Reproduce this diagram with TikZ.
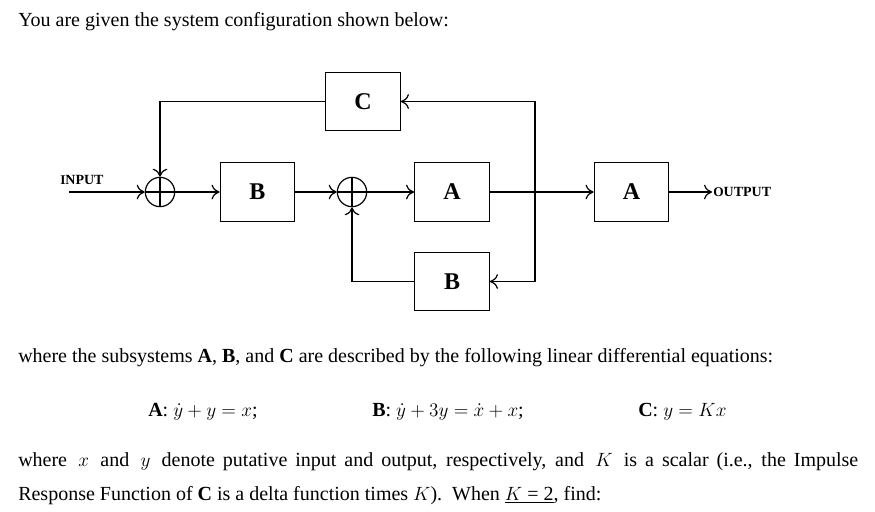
\documentclass[tikz,border=0pt]{standalone}
\usepackage{amsmath}
\usepackage{fontspec}
\setmainfont{Liberation Serif}
\usetikzlibrary{arrows.meta}
\newcommand{\scap}[2]{\textbf{#1{\fontsize{10.5}{11}\selectfont #2}}}
\begin{document}
\begin{tikzpicture}[x=0.75pt,y=-0.75pt,
  blk/.style={draw,line width=0.9pt,minimum width=56pt,minimum height=44pt,font=\fontsize{18}{19}\selectfont\bfseries,inner sep=0pt},
  sum/.style={draw,circle,line width=0.9pt,minimum size=22pt,inner sep=0pt,path picture={\draw[line width=0.9pt] (path picture bounding box.north)--(path picture bounding box.south) (path picture bounding box.west)--(path picture bounding box.east);}},
  ln/.style={line width=0.9pt},
  ar/.style={ln,-{To[length=6pt,width=11pt]}},
  txt/.style={anchor=west,inner sep=0pt,font=\fontsize{15}{17}\selectfont}]
\useasboundingbox (0,0) rectangle (875,511);
\node[txt] (t1) at (18,22) {You are given the system configuration shown below:};
\node[sum] (s1) at (160,192) {};
\node[sum] (s2) at (352,192) {};
\node[blk] (b1) at (257.5,192) {B};
\node[blk] (a1) at (452,192) {A};
\node[blk] (a2) at (631.5,192) {A};
\node[blk] (c) at (363,101.5) {C};
\node[blk] (b2) at (452,281.5) {B};
\coordinate (in) at (69,192);
\coordinate (out) at (712,192);
\coordinate (j) at (535,192);
\coordinate (jt) at (535,101.5);
\coordinate (jb) at (535,281.5);
\coordinate (ct) at (160,101.5);
\coordinate (bb) at (352,281.5);
\node[anchor=south west,inner sep=0pt] (inl) at (60,185) {\scap{I}{NPUT}};
\node[anchor=west,inner sep=0pt] (outl) at (713,192) {\scap{O}{UTPUT}};
\draw[ar] (in) -- (s1);
\draw[ar] (s1) -- (b1);
\draw[ar] (b1) -- (s2);
\draw[ar] (s2) -- (a1);
\draw[ar] (a1) -- (a2);
\draw[ar] (a2) -- (out);
\draw[ar] (jb) -- (jt) -- (c);
\draw[ar] (c) -- (ct) -- (s1);
\draw[ar] (j) -- (jb) -- (b2);
\draw[ar] (b2) -- (bb) -- (s2);
\node[txt] (t2) at (18,358) {where the subsystems \textbf{A}, \textbf{B}, and \textbf{C} are described by the following linear differential equations:};
\node[txt] (e1) at (148,412) {\textbf{A}: $\dot y + y = x$;};
\node[txt] (e2) at (372,412) {\textbf{B}: $\dot y + 3y = \dot x + x$;};
\node[txt] (e3) at (638,412) {\textbf{C}: $y = Kx$};
\node[txt,anchor=north west,text width=630pt,align=justify,font=\fontsize{15}{25.5}\selectfont] (p) at (18,452) {where \,$x$\, and \,$y$\, denote putative input and output, respectively, and \,$K$\, is a scalar (i.e., the Impulse\linebreak Response Function of \textbf{C} is a delta function times $K$).\ \ When \underline{$K$ = 2}, find:};
\end{tikzpicture}
\end{document}
